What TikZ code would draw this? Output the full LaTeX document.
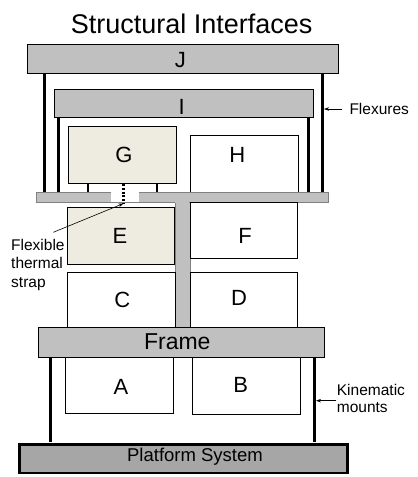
\documentclass[tikz,border=0pt]{standalone}
\usepackage{fontspec}
\setmainfont{Liberation Sans}
\usetikzlibrary{arrows.meta}
\definecolor{barg}{HTML}{C0C0C0}
\definecolor{platg}{HTML}{A6A6A6}
\definecolor{beige}{HTML}{EEECE1}
\definecolor{edgeg}{HTML}{808080}
\begin{document}
\begin{tikzpicture}[x=1pt,y=-1pt,
  box/.style={draw=black, line width=0.8pt, fill=white, inner sep=0pt, anchor=north west},
  bar/.style={box, fill=barg},
  lbl/.style={inner sep=0pt, font=\fontsize{22}{26}\selectfont},
  note/.style={inner sep=0pt, align=left, anchor=base west, font=\fontsize{15.5}{18.3}\selectfont},
  flex/.style={line width=3pt},
  leg/.style={line width=2.2pt},
  callout/.style={line width=0.6pt, -{Stealth[length=5pt,width=3.5pt]}}
]
\useasboundingbox (0,0) rectangle (418,477);

% title
\node[inner sep=0pt, anchor=base, font=\fontsize{27}{30}\selectfont] (title) at (191.7,33.3) {Structural Interfaces};

% flexures and mounts (drawn first, behind the bars)
\coordinate (oL1) at (44.3,73); \coordinate (oL2) at (44.3,191.7);
\coordinate (oR1) at (322.3,73); \coordinate (oR2) at (322.3,191.7);
\coordinate (iL1) at (58.3,117.3); \coordinate (iL2) at (58.3,191.7);
\coordinate (iR1) at (308.3,117.3); \coordinate (iR2) at (308.3,191.7);
\coordinate (kL1) at (50.7,356.7); \coordinate (kL2) at (50.7,441.7);
\coordinate (kR1) at (314.3,356.7); \coordinate (kR2) at (314.3,441.7);
\coordinate (gL1) at (88.3,183.3); \coordinate (gL2) at (88.3,191.7);
\coordinate (gR1) at (157.3,183.3); \coordinate (gR2) at (157.3,191.7);
\draw[flex] (oL1) -- (oL2);
\draw[flex] (oR1) -- (oR2);
\draw[flex] (iL1) -- (iL2);
\draw[flex] (iR1) -- (iR2);
\draw[flex] (kL1) -- (kL2);
\draw[flex] (kR1) -- (kR2);
\draw[leg] (gL1) -- (gL2);
\draw[leg] (gR1) -- (gR2);

% bars J and I
\node[bar, minimum width=311.6pt, minimum height=28.7pt] (J) at (26.7,44.3) {};
\node[bar, minimum width=259pt, minimum height=28pt] (I) at (54.3,89.3) {};

% boxes
\node[box, fill=beige, minimum width=108pt, minimum height=57pt] (G) at (68.3,126.3) {};
\node[box, minimum width=108pt, minimum height=56.4pt] (H) at (190.3,135.3) {};

% plate with post
\node[draw=edgeg, line width=0.6pt, fill=barg, inner sep=0pt, anchor=north west, minimum width=15.5pt, minimum height=125.6pt] (post) at (174.5,201.7) {};
\node[draw=edgeg, line width=0.6pt, fill=barg, inner sep=0pt, anchor=north west, minimum width=292.6pt, minimum height=10pt] (plate) at (35.7,191.7) {};
\fill[barg] (175.2,200.5) rectangle (189.3,203);
\fill[white] (110.7,191) rectangle (139.3,202.4);

\node[box, fill=beige, minimum width=107.6pt, minimum height=56.7pt] (E) at (66.7,207.3) {};
\node[box, minimum width=107pt, minimum height=56.6pt] (F) at (190.3,201.7) {};
\node[box, minimum width=107.4pt, minimum height=55pt] (C) at (67.3,271.7) {};
\node[box, minimum width=107pt, minimum height=55pt] (D) at (190.3,271.7) {};

% Frame
\node[bar, minimum width=285.4pt, minimum height=29.4pt] (frame) at (38.3,327.3) {};
\node[box, minimum width=108pt, minimum height=56pt] (A) at (65.3,357.3) {};
\node[box, minimum width=108pt, minimum height=56.7pt] (B) at (192.3,357.3) {};

% platform
\node[box, fill=platg, line width=2.6pt, minimum width=328pt, minimum height=28.6pt] (plat) at (18.0,443.0) {};

% labels
\node[lbl] (Jl) at (180.3,59.7) {J};
\node[lbl] (Il) at (181.7,107) {I};
\node[lbl] (Gl) at (124,155.3) {G};
\node[lbl] (Hl) at (237.3,154.7) {H};
\node[lbl] (El) at (120,236.2) {E};
\node[lbl] (Fl) at (245,236) {F};
\node[lbl] (Cl) at (122.3,300) {C};
\node[lbl] (Dl) at (239,297.8) {D};
\node[lbl, font=\fontsize{23}{26}\selectfont] (Framel) at (177.3,341.7) {Frame};
\node[lbl] (Al) at (121,386.7) {A};
\node[lbl] (Bl) at (240.7,384.7) {B};
\node[inner sep=0pt, anchor=base, font=\fontsize{18.5}{22}\selectfont] (platl) at (195,461.7) {Platform System};

% thermal strap
\coordinate (strapTop) at (123.5,184);
\coordinate (strapEnd) at (123.5,203.5);
\draw[line width=2.2pt, dash pattern=on 2pt off 1.8pt] (strapTop) -- (strapEnd);

% callouts
\node[note] (flexl) at (349.3,114.3) {Flexures};
\node[note, font=\fontsize{15.5}{17.7}\selectfont] (kinl) at (336.7,412.7) {Kinematic\\mounts};
\node[note, font=\fontsize{15.5}{18.5}\selectfont] (strapl) at (11,287) {Flexible\\thermal\\strap};

\coordinate (flexTip) at (324,109);
\coordinate (kinTip) at (316,400.7);
\coordinate (strapStart) at (53.3,232.3);
\draw[callout] ([xshift=-7.6pt]flexl.west |- flexTip) -- (flexTip);
\draw[callout] ([xshift=-0.7pt]kinl.west |- kinTip) -- (kinTip);
\draw[callout] (strapStart) -- (strapEnd);
\end{tikzpicture}
\end{document}
